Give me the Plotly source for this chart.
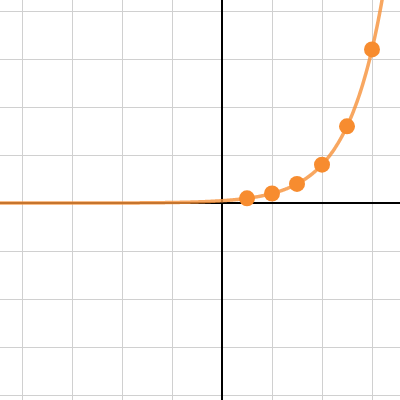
import numpy as np
import plotly.graph_objects as go

# data points
x_pts = [0.5, 1.0, 1.5, 2.0, 2.5, 3.0]
y_pts = [0.1, 0.2, 0.4, 0.8, 1.6, 3.2]

# exponential fit y = a * b^x through the points
slope, intercept = np.polyfit(x_pts, np.log(y_pts), 1)
x_fit = np.linspace(-4.5, 3.6, 800)
y_fit = np.exp(intercept + slope * x_fit)

fig = go.Figure()
fig.add_trace(go.Scatter(x=x_fit, y=y_fit, mode='lines',
                         line=dict(color='#f7923a', width=3.5, simplify=False),
                         opacity=0.8, hoverinfo='skip'))
fig.add_trace(go.Scatter(x=x_pts, y=y_pts, mode='markers',
                         marker=dict(color='#f78c2f', size=16)))

axis_style = dict(showticklabels=False, ticks='', dtick=1,
                  showgrid=True, gridcolor='#d0d0d0', gridwidth=1,
                  zeroline=True, zerolinecolor='black', zerolinewidth=2,
                  showline=False, fixedrange=True)

fig.update_layout(
    width=400, height=400, autosize=False,
    margin=dict(l=0, r=0, t=0, b=0, pad=0),
    paper_bgcolor='white', plot_bgcolor='white',
    showlegend=False,
    xaxis=dict(range=[-4.44, 3.56], tick0=0, **axis_style),
    yaxis=dict(range=[-4.1, 4.23], tick0=0, **axis_style),
)

fig.write_html("out.html",
               config={'responsive': False, 'displayModeBar': False},
               post_script="document.body.style.margin='0';document.body.style.overflow='hidden';")
